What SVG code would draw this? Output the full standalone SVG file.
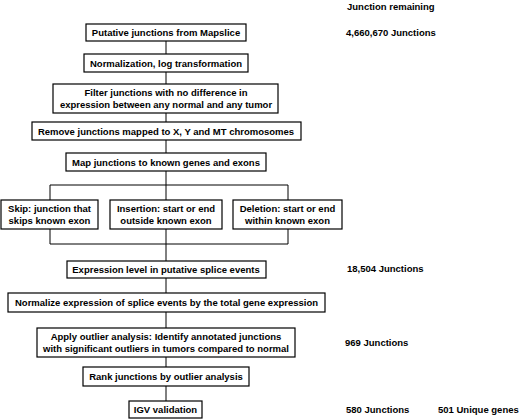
<svg xmlns="http://www.w3.org/2000/svg" width="520" height="419" viewBox="0 0 520 419">
<style>
.b{fill:#fff;stroke:#000;stroke-width:1.2}
.t{font-family:"Liberation Sans",Arial,sans-serif;font-weight:bold;font-size:9.5px;fill:#000;text-anchor:middle}
.r{font-family:"Liberation Sans",Arial,sans-serif;font-weight:bold;font-size:9.5px;fill:#000}
.c{fill:none;stroke:#000;stroke-width:1}
</style>
<rect width="520" height="419" fill="#fff"/>
<g id="connectors">
<path class="c" d="M166 41V54M166 72V84M166 113V122M166 140V153M166 171V185M50 185H288M50 185V200M166 185V200M288 185V200M50 229V244M166 229V244M288 229V244M50 244H288M166 244V261M166 278V293M166 312V328M166 357V367M166 386V401"/>
</g>
<g id="n1"><rect class="b" x="86" y="24" width="160" height="17"/><text class="t" x="166" y="36">Putative junctions from Mapslice</text></g>
<g id="n2"><rect class="b" x="84" y="54" width="164" height="18"/><text class="t" x="166" y="66.5">Normalization, log transformation</text></g>
<g id="n3"><rect class="b" x="53" y="84" width="225" height="29"/><text class="t" x="166" y="96">Filter junctions with no difference in</text><text class="t" x="166" y="108">expression between any normal and any tumor</text></g>
<g id="n4"><rect class="b" x="32" y="122" width="269" height="18"/><text class="t" x="166" y="134.5">Remove junctions mapped to X, Y and MT chromosomes</text></g>
<g id="n5"><rect class="b" x="66" y="153" width="200" height="18"/><text class="t" x="166" y="165.5">Map junctions to known genes and exons</text></g>
<g id="n6"><rect class="b" x="1" y="200" width="97" height="29"/><text class="t" x="49.5" y="212">Skip: junction that</text><text class="t" x="49.5" y="224">skips known exon</text></g>
<g id="n7"><rect class="b" x="110" y="200" width="112" height="29"/><text class="t" x="166" y="212">Insertion: start or end</text><text class="t" x="166" y="224">outside known exon</text></g>
<g id="n8"><rect class="b" x="233" y="200" width="109" height="29"/><text class="t" x="287.5" y="212">Deletion: start or end</text><text class="t" x="287.5" y="224">within known exon</text></g>
<g id="n9"><rect class="b" x="67" y="261" width="199" height="17"/><text class="t" x="166" y="273">Expression level in putative splice events</text></g>
<g id="n10"><rect class="b" x="8" y="293" width="317" height="19"/><text class="t" x="166.5" y="306">Normalize expression of splice events by the total gene expression</text></g>
<g id="n11"><rect class="b" x="37" y="328" width="258" height="29"/><text class="t" x="166" y="340">Apply outlier analysis: Identify annotated junctions</text><text class="t" x="166" y="352">with significant outliers in tumors compared to normal</text></g>
<g id="n12"><rect class="b" x="83" y="367" width="166" height="19"/><text class="t" x="166" y="380">Rank junctions by outlier analysis</text></g>
<g id="n13"><rect class="b" x="129" y="401" width="73" height="17"/><text class="t" x="165.5" y="413">IGV validation</text></g>
<g id="labels">
<text class="r" x="347" y="10">Junction remaining</text>
<text class="r" x="346" y="36">4,660,670 Junctions</text>
<text class="r" x="347" y="272">18,504 Junctions</text>
<text class="r" x="345" y="346">969 Junctions</text>
<text class="r" x="346" y="413">580 Junctions</text>
<text class="r" x="438" y="413">501 Unique genes</text>
</g>
</svg>
